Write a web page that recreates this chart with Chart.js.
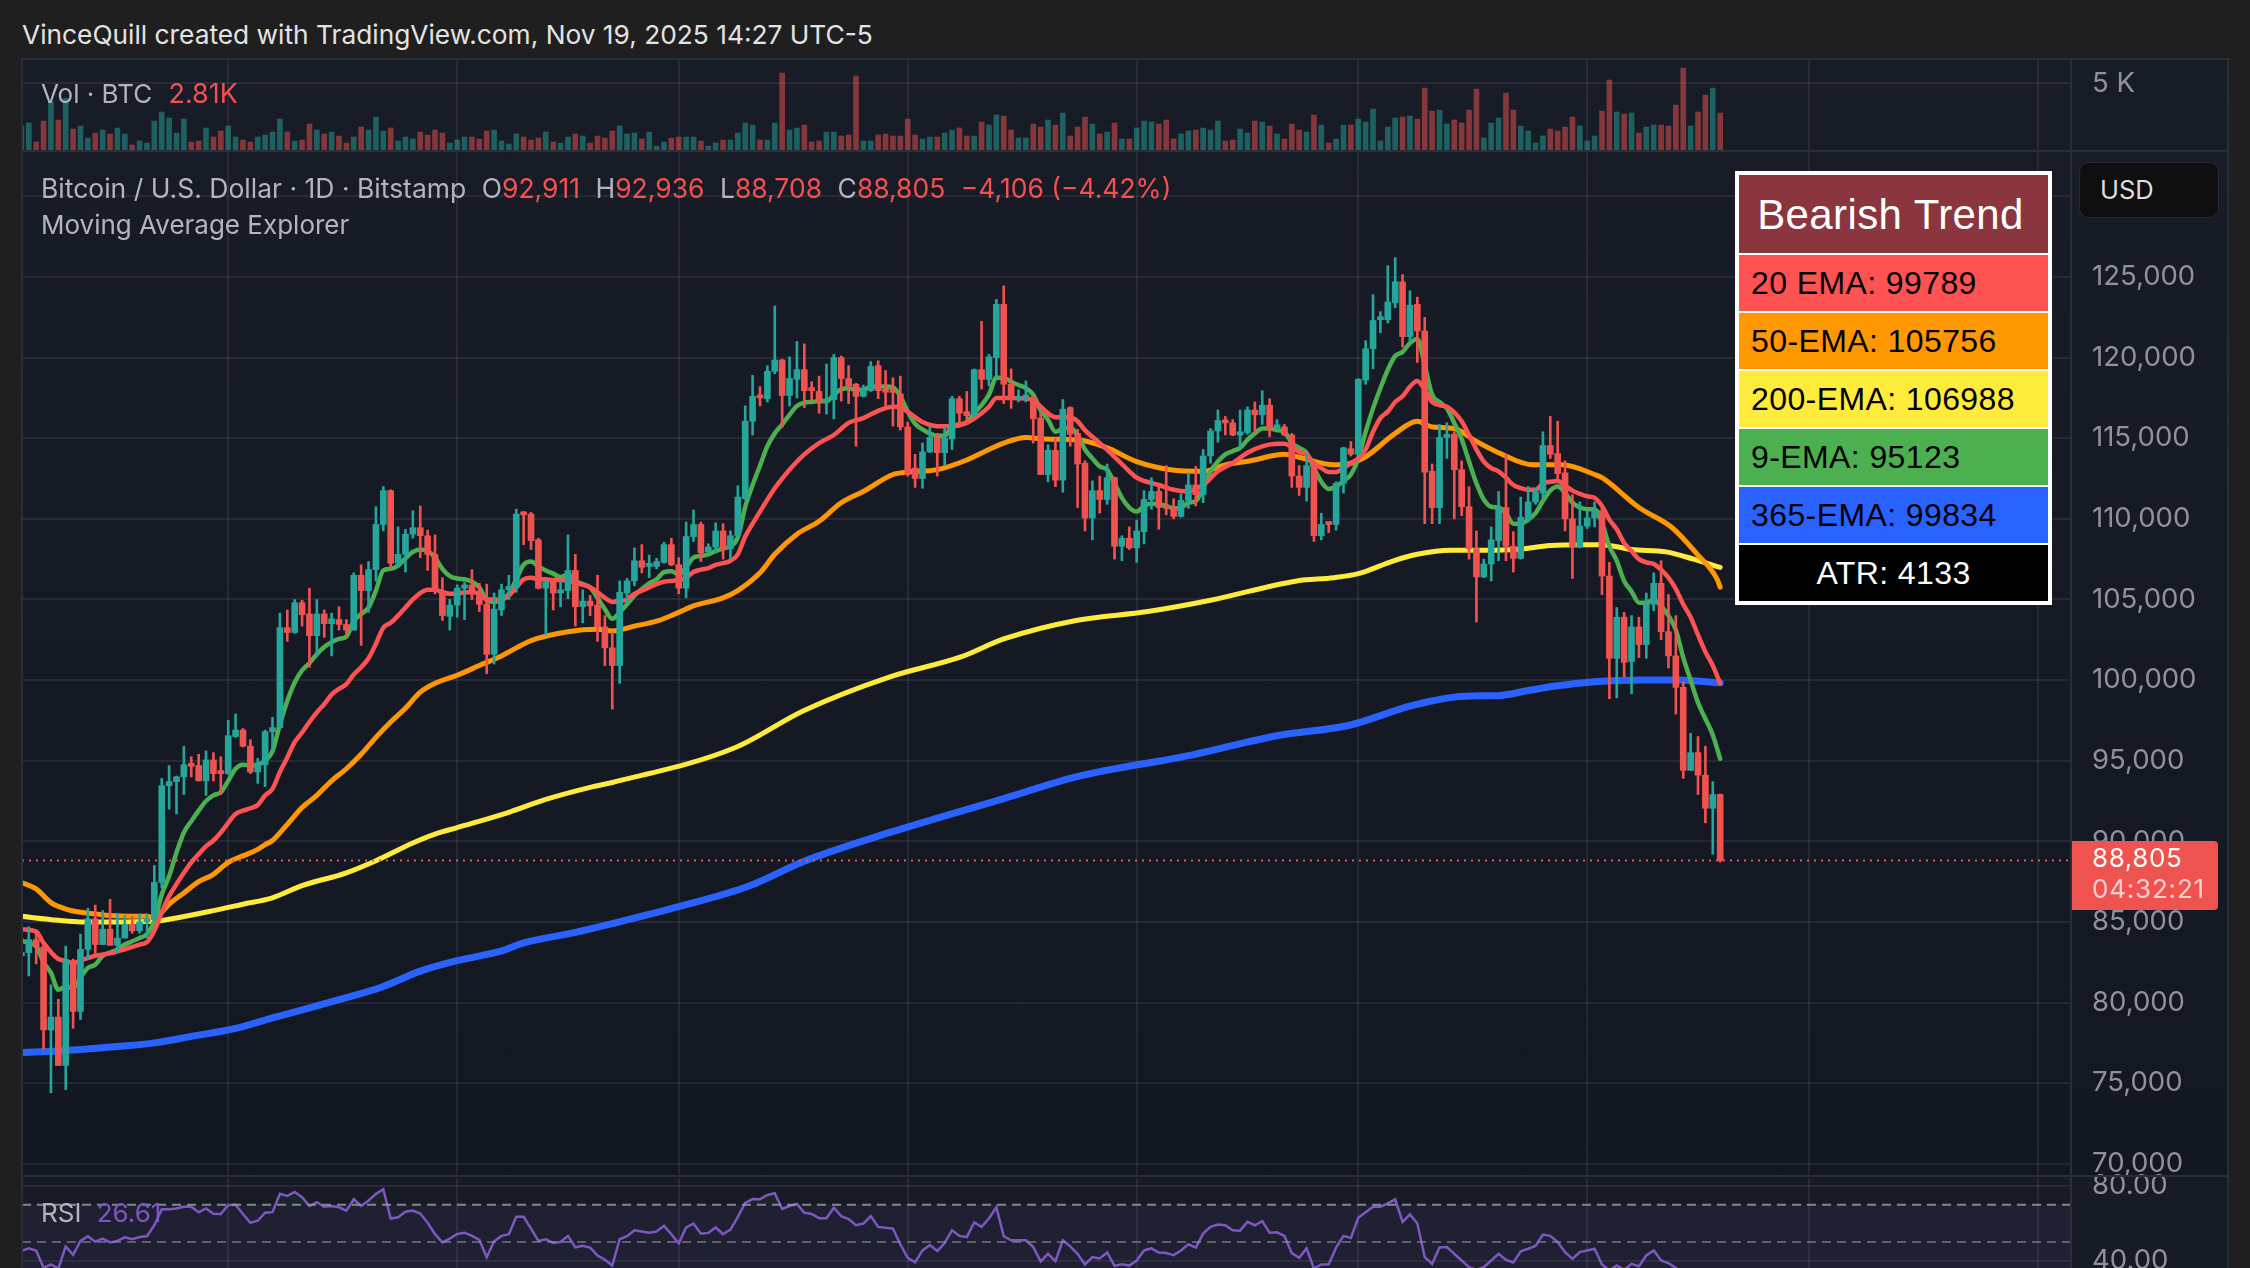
<!DOCTYPE html>
<html><head><meta charset="utf-8"><title>BTC</title>
<script src="https://cdn.jsdelivr.net/npm/chart.js@4/dist/chart.umd.js"></script>
<style>
html,body{margin:0;padding:0;background:#1f1f1f;width:2250px;height:1268px;overflow:hidden;font-family:Inter,sans-serif}
.a{position:absolute;white-space:nowrap}
canvas{position:absolute;left:22px}
#tbl{position:absolute;left:1735px;top:171px;width:317px;height:434px;background:#fff;font-family:"Liberation Sans",sans-serif;color:#000}
#tbl div{position:absolute;left:4px;width:309px;box-sizing:border-box;padding-left:12px;line-height:56px;height:56px;font-size:32px;letter-spacing:.4px}
.line{position:absolute;background:#2a2e39}
.g{color:#b2b5be}.r{color:#f55050}
</style></head><body>
<div class="a" style="left:22px;top:59px;width:2206px;height:1117px;background:linear-gradient(#181c27,#131722)"></div>
<div class="a" style="left:22px;top:1176px;width:2206px;height:92px;background:#171b26"></div>
<canvas id="vol" style="top:60px" width="2206" height="91"></canvas>
<canvas id="price" style="top:152px" width="2206" height="1024"></canvas>
<canvas id="rsi" style="top:1168px" width="2206" height="100"></canvas>
<div class="line" style="left:22px;top:58px;width:2208px;height:2px"></div>
<div class="line" style="left:21px;top:58px;width:2px;height:1210px"></div>
<div class="line" style="left:2227px;top:58px;width:2px;height:1210px"></div>
<div class="line" style="left:2070px;top:58px;width:2px;height:1210px"></div>
<div class="line" style="left:22px;top:150px;width:2206px;height:2px"></div>
<div class="line" style="left:22px;top:1175px;width:2206px;height:2px"></div>
<div class="a" style="left:22px;top:19px;font-size:26.3px;line-height:32px;color:#e3e3e3">VinceQuill created with TradingView.com, Nov 19, 2025 14:27 UTC-5</div>
<div class="a g" style="left:41px;top:78px;font-size:26px;line-height:32px">Vol · BTC <span class="r" style="margin-left:9px;font-size:27px">2.81K</span></div>
<div class="a g" style="left:41px;top:172px;font-size:26.5px;line-height:32px">Bitcoin / U.S. Dollar · 1D · Bitstamp <span style="margin-left:8px">O</span><span class="r">92,911</span> <span style="margin-left:8px">H</span><span class="r">92,936</span> <span style="margin-left:8px">L</span><span class="r">88,708</span> <span style="margin-left:8px">C</span><span class="r">88,805</span> <span class="r" style="margin-left:8px">−4,106 (−4.42%)</span></div>
<div class="a g" style="left:41px;top:209px;font-size:26px;line-height:32px">Moving Average Explorer</div>
<div class="a g" style="left:41px;top:1197px;font-size:26px;line-height:32px">RSI <span style="color:#7e57c2;margin-left:8px">26.61</span></div>
<div class="a" style="left:2079px;top:162px;width:140px;height:56px;box-sizing:border-box;background:#0f0f0f;border:1px solid #2a2a2a;border-radius:10px;color:#dcdee3;font-size:25.5px;line-height:54px;padding-left:20px">USD</div>
<div class="a" style="left:2072px;top:841px;width:146px;height:69px;background:#ef5350;border-radius:0 4px 4px 0"></div>
<div class="a" style="left:2092px;top:842px;font-size:26px;line-height:32px;color:#fff;letter-spacing:.6px">88,805</div>
<div class="a" style="left:2092px;top:873px;font-size:26px;line-height:32px;color:#fbd0cf;letter-spacing:.8px">04:32:21</div>
<div id="tbl">
<div style="top:4px;height:78px;line-height:80px;font-size:42px;background:#8b363f;color:#fff;text-align:center;padding:0 6px 0 0">Bearish Trend</div>
<div style="top:84px;background:#ff5252">20 EMA: 99789</div>
<div style="top:142px;background:#ff9800">50-EMA: 105756</div>
<div style="top:200px;background:#ffeb3b">200-EMA: 106988</div>
<div style="top:258px;background:#4caf50">9-EMA: 95123</div>
<div style="top:316px;background:#2962ff">365-EMA: 99834</div>
<div style="top:374px;background:#000;color:#fff;text-align:center;padding:0">ATR: 4133</div>
</div>
<script>
// Day index 0 = Apr 3 2025; values in thousands of USD
const opens=[82.9,83.1,83.9,83.45,78.3,79.1,76.1,82.6,79.45,83.3,85.2,83.6,84.55,83.55,84,84.85,84.45,85,85.15,87.45,93.45,93.7,94,94.75,94.7,93.75,95.05,94.3,94.2,96.5,96.9,95.9,94.3,94.75,96.8,97.05,103.25,102.95,104.8,104.1,102.75,104.1,103.5,103.75,103.45,103.1,106.5,105.55,106.85,109.65,111.75,107.25,107.8,109.05,109.45,108.95,107.8,105.55,103.95,104.65,105.7,105.9,105.35,104.7,101.6,104.35,105.6,105.75,110.3,110.3,108.7,105.7,106.15,105.4,105.55,106.8,104.55,104.9,104.65,103.3,102,100.9,105.4,106.15,107.4,107.05,107.05,107.3,108.4,107.15,105.7,108.9,109.65,107.95,108.25,109.25,108.15,108.95,111.25,116.05,117.6,117.45,119.15,119.85,117.65,118.65,119.25,118.05,117.9,117.25,117.4,120,118.7,118.35,117.6,117.95,119.5,118,117.9,117.75,115.7,113.15,112.5,114.15,115.05,114.1,114.95,117.45,116.65,116.4,119.25,118.65,120,123.3,118.35,117.4,117.5,117.5,116.25,112.75,114.25,112.4,116.9,115.3,113.45,110.05,111.75,111.2,112.55,108.3,108.8,108.2,109.2,111.2,111.7,110.7,110.65,110.15,111.15,112.1,111.5,113.9,115.45,116.1,115.95,115.2,115.35,116.75,116.45,117.05,115.65,115.7,115.2,112.65,111.95,113.3,108.95,109.7,109.65,112.2,114.35,114,118.6,120.55,122.35,122.35,123.4,124.7,121.3,123.3,121.65,112.95,110.7,115.05,115.25,113.05,110.75,108.15,106.4,107.2,108.65,110.7,108.3,107.55,110,111.05,111.6,114.55,114.05,112.85,110,108.25,109.55,110.05,110.5,106.45,101.35,103.9,101.15,103.3,102.2,104.7,106,103,101.5,99.55,94.4,95.5,94.1,92.05,92.911];
const highs=[84.2,84.7,84.25,83.6,81.1,80.2,83.5,82.7,84.25,85.85,86.05,85.7,86.4,85.5,85.4,85.35,85.5,85.5,88.5,93.9,94.7,94.05,95.9,95.25,95.4,95.6,95.5,95.25,97.5,97.9,97,96.3,95.15,96.9,97.7,104.15,104.35,105,104.95,105.7,105,104.35,104.15,104.55,103.75,106.65,107.15,107.35,110.75,112,111.8,109.5,109.35,110.5,110.8,109.3,109,106.35,105,105.9,106.05,106.85,106,105.95,105.4,105.95,106.5,110.6,110.45,110.4,108.8,106.15,106.25,106.2,109,107.8,105.6,105.25,106.5,104,103,106.15,106.3,108.2,108.4,107.75,107.55,108.55,108.8,107.6,109.8,110.55,109.8,108.45,109.75,109.7,109.25,112.05,117,118.9,118.2,119.5,123.2,119.9,120.05,121,120.85,118.5,118.85,119.6,120.2,120.1,119.5,118.4,118.3,119.75,119.8,119.2,118.75,118.85,116,114,114.7,115.7,115.3,115.7,117.6,117.6,117.9,119.3,122.25,120.2,123.6,124.45,119.3,118,118.55,117.6,116.65,114.6,115,117.4,116.95,115.55,113.6,112.35,112.65,113.4,112.6,108.95,109.5,109.9,111.75,112.55,112.05,113.3,111.25,111.55,112.85,113.25,114.3,115.6,116.75,116.35,116.15,116.75,116.95,117.25,117.95,117.45,116.15,115.85,115.3,113.3,114,113.4,110.35,109.8,112.3,114.45,114.8,118.7,121.05,123.9,122.85,125.7,126.2,125.15,124.15,123.75,122.5,113.4,115.85,115.95,115.4,113.6,112,109.25,107.5,109.5,111.7,114,109.2,111.35,112,111.9,115.4,116.35,116.05,113.6,111.5,111.05,110.5,111.05,110.7,107.3,104.5,104.2,104,103.9,105.4,106.65,107.4,105.3,104,99.9,96.7,96.5,95.9,93.7,92.936];
const lows=[82.4,81.65,82.4,77.1,74.4,76.1,74.6,78.4,78.95,82.7,83.05,83.6,83.55,83.1,84,84.3,84.3,84,85.05,87.1,92,91.7,92.9,94,93.75,92.85,93.75,92.9,94.15,96.45,95.85,94.2,93.6,93.4,95.7,97,102.4,102.9,103.35,100.8,101.45,102.65,101.5,103.1,102.7,103.1,102.15,104.2,106.15,109.25,106.85,107,106.7,108.8,107.6,106.8,105.35,103.7,103.1,103.9,103.75,105,104.25,100.4,101,104,105,105.45,108.4,108.1,105.65,102.8,104.35,104.55,105.05,103.35,103.55,104,102.4,100.9,98.2,99.8,104.8,105.85,106.65,106.35,106.9,107.25,107.1,105.35,105.1,108.6,107.35,107.8,107.9,107.5,107.5,108.9,111.2,115.2,117,117.25,119,115.7,117,117.5,116.9,117.35,116.55,116.5,116.2,117.3,117.15,114.5,117.55,117.9,117.45,117,115.75,115.5,112.65,111.95,111.9,114.1,112.65,113.3,114.3,115.9,115.85,116.35,118.05,118.25,118.8,117.15,116.85,117.25,117.25,114.7,112.75,112.3,112,111.65,114.5,110.7,109.25,108.7,110.35,110.9,107.5,107.4,108.1,107.3,108.45,110.6,109.35,110.25,110,110.1,110.65,110.8,111,113.45,114.75,115.2,115.15,114.45,115.25,115.3,115.85,115.1,115.55,115.15,111.95,111.45,111.1,108.6,108.7,109.15,109.3,111.6,113.9,113.95,118.35,119.3,121.55,122.15,123.1,120.65,121.05,119.7,109.7,109.7,109.7,113.75,110,110.2,107.5,103.6,106.35,106.15,107.4,107.4,106.7,107.5,109.8,110.9,111.3,113.75,112.45,109.25,106.3,108.2,109.4,109.5,105.3,98.85,98.9,100.2,99.15,101.4,101.35,104.3,102.5,100.75,97.9,93.9,94.4,92.9,91.15,89.2,88.708];
const closes=[83.1,83.9,83.45,78.3,79.1,76.1,82.6,79.45,83.3,85.2,83.6,84.55,83.55,84,84.85,84.45,85,85.15,87.45,93.45,93.7,94,94.75,94.65,93.75,95.05,94.2,94.2,96.55,96.9,95.9,94.3,94.75,96.8,97.05,103.25,102.95,104.8,104.05,102.75,104.1,103.5,103.8,103.45,103.1,106.5,105.55,106.85,109.65,111.75,107.25,107.8,109.05,109.45,108.95,107.8,105.5,104,104.65,105.7,105.9,105.35,104.7,101.6,104.4,105.6,105.8,110.3,110.25,108.65,105.7,106.1,105.4,105.6,106.8,104.55,104.9,104.6,103.3,102,100.9,105.45,106.15,107.4,107,107.15,107.35,108.4,107.15,105.7,108.9,109.65,107.9,108.25,109.25,108.1,108.95,111.35,116.05,117.6,117.5,119.15,119.85,117.65,118.7,119.25,117.95,117.95,117.25,117.4,120,118.7,118.25,117.6,118,119.45,117.95,117.85,117.85,115.7,112.75,112.5,114.15,115.05,114.1,115,117.45,116.55,116.4,119.25,118.65,120.05,123.3,118.35,117.4,117.5,117.55,116.2,112.75,114.25,112.4,116.8,115.25,113.4,110.05,111.75,111.2,112.55,108.3,108.8,108.2,109.25,111.2,111.7,110.7,110.65,110.15,111.15,112.1,111.5,113.9,115.45,116.1,115.95,115.2,115.4,116.75,116.45,117.05,115.6,115.75,115.2,112.65,111.95,113.3,108.95,109.65,109.65,112.2,114.4,114,118.65,120.55,122.3,122.4,123.45,124.7,121.3,123.25,121.65,112.9,110.7,115.05,115.2,113.05,110.75,108.15,106.4,107.2,108.7,110.7,108.3,107.55,110.1,111.05,111.65,114.55,114,112.8,110,108.25,109.55,110.05,110.5,106.45,101.35,103.9,101.1,103.3,102.2,104.7,106,103,101.5,99.55,94.4,95.5,94.1,92.05,92.9,88.805];
const volumes=[1800,2025,600,2175,3625,2250,3875,1575,1800,900,1275,1500,1200,1650,1200,375,675,525,2175,2850,2400,1275,2325,600,675,1650,975,1425,1800,975,750,600,975,1125,1350,2325,1350,675,750,1950,1500,1200,1350,1050,525,975,1725,1500,2475,1425,1650,675,975,825,1350,1125,1500,1275,525,750,975,975,825,1425,1500,675,450,1200,975,750,900,1350,600,525,975,1200,1050,525,1050,900,1425,1800,1200,1275,825,1350,300,600,900,975,975,975,675,300,525,750,750,1275,2025,1875,750,750,2025,5775,1500,1650,1875,600,675,1350,1350,1050,1125,5550,675,675,1125,1200,1050,1050,2325,1125,825,975,975,1275,1500,1650,1050,1050,2100,1875,2625,2550,1500,900,900,1950,1725,2250,1875,2775,1050,1725,2475,1950,1200,1350,2025,825,825,1650,2175,2100,1950,2250,825,1200,1425,1500,1650,1500,2175,675,750,1575,1275,2175,2100,1800,1200,825,1950,1500,1350,2625,1875,525,825,1875,1875,2325,2100,3075,675,1725,2400,2475,2550,2325,4650,2925,3000,1950,2250,2025,3000,4575,900,2025,2400,4275,3000,1800,1425,525,1050,1575,1425,1725,2475,1800,675,1050,2925,5250,2850,2700,2775,1275,1725,1875,1875,1800,3375,6150,1800,2850,4125,4650,2775];
const rsiValues=[45.2,46.6,45.5,36.2,38,35.8,47.7,43.2,50.6,53.1,50.2,51.8,49.8,50.6,52.5,51.5,52.7,53.1,59,67.5,67.5,68,68.9,68.9,65.9,68,65.1,65,69.8,70,65,60.3,61.4,65.7,66,75.8,74.7,76.8,74,69.3,71.3,68.9,69.3,68.6,66.8,72.9,69.3,72.2,75.8,78.3,62.6,63.3,66.2,66.9,65.3,60.3,54.2,49.8,51.8,54.3,55,53.3,51.1,41.9,50.4,53.3,54.2,63.5,63.5,57.2,50.6,51.5,49.5,50,53.3,47.1,48,47,42.8,40.5,37.4,51.5,53.1,56.3,55.6,55,55.6,58.7,54.2,49.3,57.8,59.9,54.5,54.9,57.8,54.2,56.7,63.5,71,73,72.9,75.2,76.1,67.7,69.3,70.4,65.7,65.1,62.8,62.8,68.4,63.9,62.3,59,59.9,63.9,58.1,57.6,57.2,48.8,41.6,39.2,45.5,48.4,45.2,49.5,56.3,53.3,52.7,60.5,58.1,62.6,68.6,53.1,50.9,50.9,50.9,47.3,39.7,43.7,39.7,50.9,47.7,43.7,38,41.9,41.2,44.4,37.2,38.1,37.4,40.1,45.5,46.6,44.4,44.1,43,45.5,48.8,47,54.5,58.1,59.4,59,56.3,56.1,60.8,59,61.2,55,55.2,53.3,44.1,41.6,46.6,35.8,38,38.1,47,53.3,52.2,63,65.9,68.9,68.9,70.7,72.9,60.8,64.8,59.9,41.9,38.3,47.1,47.3,43.7,40.1,36.5,35.1,36.5,40.1,43.7,40.5,39,45,46.4,47.9,54,53.3,50,44.6,41,44.6,45.5,46.4,38,34.9,37.4,35.1,38.3,37,42.8,45.5,40.1,38.7,36.2,31,33,31.5,29.5,31,26.61];
const ema9=[83.85,83.7,83.5,82.5,81.85,80.8,81,80.9,81.55,82.15,82.35,82.9,83.1,83.3,83.6,83.8,84,84.25,85.05,86.7,87.85,89.3,90.55,91.25,91.9,92.5,92.85,93.05,93.75,94.5,94.75,94.7,94.75,95,95.6,97.25,98.7,99.85,100.6,101.05,101.6,102.05,102.35,102.55,102.7,103.65,104.1,104.5,105.55,106.8,106.9,107.1,107.55,107.95,108.1,108,107.6,106.9,106.45,106.3,106.25,106.1,105.75,104.95,104.85,105,105.35,106.25,107.15,107.35,107.05,106.8,106.6,106.4,106.55,106.15,105.95,105.75,105.1,104.4,103.8,104.2,104.7,105.25,105.65,106,106.25,106.7,106.75,106.55,107,107.6,107.7,107.8,108,108.15,108.3,108.85,110.75,112.1,113.3,114.5,115.3,115.85,116.45,117,117.2,117.25,117.3,117.3,117.7,118.05,118.1,118,118,118.2,118.2,118.2,118.15,117.6,116.65,115.9,115.55,115.3,115.15,115.15,115.75,115.85,116,116.55,117.05,117.7,118.75,118.75,118.5,118.3,118.1,117.7,116.75,116.15,115.4,115.6,115.65,115.2,114.3,113.75,113.25,113.05,112.2,111.3,110.7,110.45,110.8,110.95,110.9,110.8,110.65,110.7,111,111.1,111.9,112.95,113.55,114,114.2,114.4,114.9,115.3,115.6,115.6,115.5,115.4,114.7,114.4,114.1,113.15,112.3,111.85,112,112.35,112.75,113.75,115.4,116.85,118.1,119.25,120.1,120.35,120.9,121.15,119.55,117.7,117.25,116.85,115.95,114.95,113.55,112.2,111.2,110.75,110.7,110.35,109.7,109.7,109.95,110.35,111.1,111.75,112,111.6,111,110.7,110.6,110.6,109.75,108.3,107.4,106.15,105.5,104.8,104.8,105,104.6,104,103.1,101.4,100,98.6,97.6,96.6,95.12];
const ema20Days=[0,2,3,5,6,7,8,10,12,14,16,17,18,19,20,21,22,23,24,25,26,27,28,29,30,31,32,33,34,35,36,37,38,39,40,41,42,43,44,45,46,47,48,49,50,51,52,53,54,55,56,57,58,59,60,61,62,63,64,65,66,67,68,69,70,71,72,73,74,75,76,77,78,79,80,81,82,83,84,85,86,87,88,89,90,91,92,93,94,95,96,97,98,99,100,102,104,106,108,110,112,114,116,118,119,120,122,124,126,128,130,131,132,134,136,137,138,140,142,143,144,146,148,150,151,152,154,156,158,160,162,164,166,168,170,171,172,173,174,175,176,177,178,179,180,181,182,183,184,185,186,187,188,189,190,191,192,193,194,195,196,197,198,199,200,201,202,203,204,205,206,207,208,209,210,211,212,213,214,215,216,217,218,219,220,221,222,223,224,225,226,227,228,229,230];
const ema20=[84.55,84.4,83.7,82.7,82.6,82.45,82.6,82.9,83.05,83.3,83.6,83.75,84.45,85.6,86.6,87.35,88.05,88.7,89.2,89.7,90.05,90.55,91.15,91.7,91.9,92.05,92.25,92.85,93.25,94.3,95.2,96.15,96.75,97.4,98,98.5,99.1,99.45,99.75,100.35,100.8,101.35,102.25,103.25,103.55,104,104.5,105,105.4,105.6,105.6,105.45,105.35,105.35,105.45,105.45,105.35,105,105,105,105.25,105.75,106.25,106.35,106.25,106.25,106.2,106.2,106.15,106.05,105.9,105.75,105.45,105.1,104.85,104.9,105,105.35,105.55,105.75,105.95,106.1,106.15,106.2,106.35,106.7,106.85,106.95,107.15,107.25,107.4,107.8,108.9,109.7,110.45,111.9,113.05,114,114.7,115.2,115.95,116.25,116.7,116.95,116.9,116.65,116,115.75,115.75,115.95,116.55,116.95,117.5,117.5,117.45,117.4,116.95,116.3,116.3,116.05,115.5,114.7,113.85,112.95,112.55,112.35,112.1,111.8,111.7,112.1,112.95,113.45,114.1,114.5,114.65,114.65,114.45,114.15,114,113.45,113.15,112.9,112.9,113.15,113.45,113.75,114.3,115.4,116.25,116.65,117.25,117.6,118.2,118.55,118,117.25,117.05,116.95,116.6,116.05,115.2,114.3,113.55,113.15,112.95,112.55,112.1,111.9,111.8,111.8,112.2,112.3,112.35,112.05,111.75,111.55,111.4,111.3,110.8,109.95,109.35,108.5,108,107.5,107.3,107.2,106.85,106.35,105.65,104.7,103.9,102.8,101.75,100.9,99.79];
const ema50Days=[0,2,4,6,8,10,12,15,17,18,19,20,22,24,26,28,30,32,33,34,36,38,40,42,44,46,48,50,52,54,56,59,62,65,69,74,78,80,83,86,89,91,95,97,100,102,105,108,111,114,118,120,124,128,131,133,136,138.5,143,147,151,155.6,160,163,166.4,171,172.7,177.7,180,182,186,189,191,194,197,200,204.7,208.6,213,214,219,223.5,226.9,229.6,230];
const ema50=[87.45,87.05,86.2,85.8,85.6,85.5,85.4,85.35,85.35,85.25,85.6,86.1,86.8,87.5,87.95,88.7,89.1,89.5,89.8,90.05,91.05,92.1,92.85,93.75,94.5,95.4,96.45,97.4,98.25,99.25,99.8,100.3,100.9,101.5,102.45,103,103.15,103.05,103.35,103.65,104.2,104.6,105.1,105.55,106.65,107.8,109.05,109.85,111,111.7,112.75,112.9,113.05,113.65,114.3,114.7,115.05,114.95,114.9,114.4,113.55,113.05,112.95,113.35,113.6,114,113.85,113.35,113.45,113.85,115.3,116.05,115.7,115.6,114.8,114.1,113.35,113.35,112.75,112.55,110.7,109.45,107.8,106.25,105.76];
const ema200Days=[0,5,8,12,18,21,26,30,34,38,44,48,53,56,59,66,71,77,80,96.6,105.9,117.6,127.3,133,142.8,152.5,161,172.7,177.7,181,185.8,189,193.5,198,202.5,207,211.5,214,218,222.7,226.4,230];
const ema200=[85.35,85.1,85,85,85.05,85.25,85.7,86.1,86.5,87.25,88.05,88.8,89.9,90.45,90.85,91.8,92.6,93.35,93.65,95.8,98.1,100.2,101.45,102.55,103.7,104.25,104.95,106.15,106.35,106.6,107.4,107.8,108.05,108.05,108.1,108.35,108.4,108.4,108.1,107.95,107.5,106.99];
const ema365Days=[0,5,11,18,23,29,34,44,49,54,59,65,68,75,80,89,98.6,105.9,117.6,133,142.8,158.4,170,179.8,188.5,195.3,200.2,204,208,213,219.6,224.2,230];
const ema365=[76.9,77,77.2,77.5,77.9,78.4,79.05,80.3,81,81.95,82.6,83.2,83.7,84.35,84.9,85.95,87.25,88.75,90.55,92.65,94,95.35,96.55,97.2,98.45,99,99.05,99.35,99.65,99.9,100,100,99.83];
const monthStartDays=[28,59,89,120,151,181,212,242,273];
const priceTicks=[70000,75000,80000,85000,90000,95000,100000,105000,110000,115000,120000,125000,130000];
const volumeTicks=[5000];
const rsiTicks=[80,40];
const lastClose=88805;

const UP='#26a69a',DN='#ef5350',GRID='rgba(240,243,250,0.075)',TXT='#8f929b';
const XMIN=0.081,XMAX=277.5,AXW=157;
const isUp=i=>closes[i]>=opens[i];
const K=v=>v*1000;
const xScale=()=>({type:'linear',min:XMIN,max:XMAX,offset:false,
  afterBuildTicks:s=>{s.ticks=monthStartDays.map(value=>({value}));},
  ticks:{display:false},border:{display:false},grid:{color:GRID,lineWidth:2,drawTicks:false,offset:false}});
const yScale=(min,max,ticks,cb)=>({type:'linear',position:'right',min,max,
  afterBuildTicks:s=>{s.ticks=ticks.map(value=>({value}));},
  afterFit:s=>{s.width=AXW;s.paddingTop=0;s.paddingBottom=0;},
  ticks:{color:TXT,font:{family:'Inter',size:27.5},padding:21,callback:cb,autoSkip:false,maxRotation:0},
  border:{display:false},grid:{color:GRID,lineWidth:2,drawTicks:false}});
const base={responsive:false,animation:false,devicePixelRatio:1,events:[],
  layout:{padding:0},plugins:{legend:{display:false},tooltip:{enabled:false},title:{display:false}}};
const line=(days,vals,color,width,order)=>({type:'line',data:days.map((d,i)=>({x:d,y:K(vals[i])})),
  borderColor:color,borderWidth:width,pointRadius:0,cubicInterpolationMode:'monotone',borderJoinStyle:'round',borderCapStyle:'round',fill:false,order});
const allDays=closes.map((_,i)=>i);

new Chart(document.getElementById('vol'),{type:'bar',
  data:{datasets:[{data:volumes.map((v,i)=>({x:i,y:v})),barThickness:5,grouped:false,
    backgroundColor:volumes.map((_,i)=>isUp(i)?'rgba(38,166,154,.5)':'rgba(239,83,80,.5)')}]},
  options:{...base,scales:{x:xScale(),y:yScale(-75,6757,volumeTicks,v=>(v/1000)+' K')}}});

new Chart(document.getElementById('price'),{type:'bar',
  data:{datasets:[
    {data:allDays.map(i=>({x:i,y:[K(lows[i]),K(highs[i])]})),barThickness:2,grouped:false,order:2,
     backgroundColor:allDays.map(i=>isUp(i)?UP:DN)},
    {data:allDays.map(i=>({x:i,y:[K(opens[i]),K(closes[i])]})),barThickness:6,grouped:false,order:1,minBarLength:3,
     backgroundColor:allDays.map(i=>isUp(i)?UP:DN)},
    line(allDays,ema9,'#4caf50',4.5,6),
    line(ema20Days,ema20,'#ff5252',4.5,5),
    line(ema50Days,ema50,'#ff9800',5,7),
    line(ema200Days,ema200,'#ffeb3b',5,8),
    line(ema365Days,ema365,'#2962ff',7,9),
    {type:'line',data:[{x:XMIN,y:lastClose},{x:XMAX,y:lastClose}],borderColor:'#ef5350',borderWidth:2,borderDash:[2,5],pointRadius:0,order:0}
  ]},
  options:{...base,scales:{x:xScale(),y:yScale(69244,132751,priceTicks,v=>v===130000?'':v.toLocaleString('en-US'))}}});

new Chart(document.getElementById('rsi'),{type:'line',
  data:{datasets:[
    {data:[{x:XMIN,y:70},{x:XMAX,y:70}],borderColor:'rgba(150,153,162,.85)',borderWidth:2,borderDash:[9,6],pointRadius:0,fill:{target:{value:30},above:'rgba(126,87,194,.085)',below:'rgba(126,87,194,.085)'}},
    {data:[{x:XMIN,y:50},{x:XMAX,y:50}],borderColor:'rgba(150,153,162,.55)',borderWidth:2,borderDash:[9,6],pointRadius:0,fill:false},
    {data:rsiValues.map((v,i)=>({x:i,y:v})),borderColor:'#7e57c2',borderWidth:2.5,pointRadius:0,tension:0,fill:{target:{value:70},above:'rgba(76,175,80,.08)',below:'rgba(0,0,0,0)'}}
  ]},
  options:{...base,layout:{padding:{top:10}},scales:{x:xScale(),y:yScale(36.1,84.3,rsiTicks,v=>v.toFixed(2))}}});
</script>
</body></html>
